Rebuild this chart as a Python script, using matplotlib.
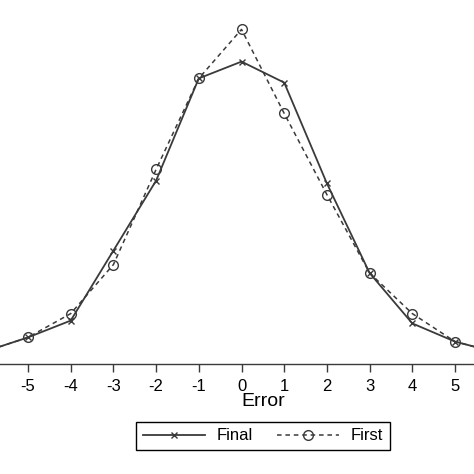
import matplotlib
matplotlib.use("Agg")
import matplotlib.pyplot as plt

plt.rcParams['font.family'] = ['Liberation Sans', 'DejaVu Sans']

errors = [-6, -5, -4, -3, -2, -1, 0, 1, 2, 3, 4, 5, 6]
final = [0.9, 1.9, 3.1, 8.1, 13.1, 20.4, 21.6, 20.1, 12.9, 6.5, 2.9, 1.6, 0.8]
first = [0.9, 1.9, 3.6, 7.1, 13.9, 20.4, 23.9, 17.9, 12.1, 6.5, 3.6, 1.6, 0.8]
xticks = [-5, -4, -3, -2, -1, 0, 1, 2, 3, 4, 5]

W = H = 474
fig = plt.figure(figsize=(4.74, 4.74), dpi=100)
ax = fig.add_axes([0, 110 / H, 1, 364 / H])

col = '#3a3a3a'
l1, = ax.plot(errors, final, '-', color=col, lw=1.3, marker='x', ms=5, mew=1.0, label='Final')
l2, = ax.plot(errors, first, '--', color=col, lw=1.1, dashes=(3, 2.5), marker='o', ms=7,
              mfc='none', mec=col, mew=1.0, label='First')

# -5 at 28 px, 5 at 455 px
u = (455 - 28) / 10.0
ax.set_xlim(-5 - 28 / u, 5 + (W - 455) / u)
ax.set_ylim(0, 26)

for s in ['left', 'right', 'top']:
    ax.spines[s].set_visible(False)
ax.spines['bottom'].set_color(col)
ax.spines['bottom'].set_linewidth(1.0)
ax.set_yticks([])
ax.set_xticks(xticks)
ax.set_xticklabels([str(t) for t in xticks])
ax.tick_params(axis='x', direction='out', length=6, width=1.0, color=col,
               labelsize=12, pad=5, labelcolor='black')

fig.text(263 / W, 1 - 401 / H, 'Error', ha='center', va='center', fontsize=14)

leg = fig.legend(handles=[l1, l2], loc='center', bbox_to_anchor=(263 / W, 1 - 436 / H),
                 ncol=2, fontsize=12, frameon=True, fancybox=False, edgecolor='black',
                 framealpha=1, handlelength=3.7, columnspacing=1.5, borderpad=0.4,
                 handletextpad=0.7, borderaxespad=0)
leg.get_frame().set_linewidth(1.0)

fig.savefig('out.png', dpi=100)
